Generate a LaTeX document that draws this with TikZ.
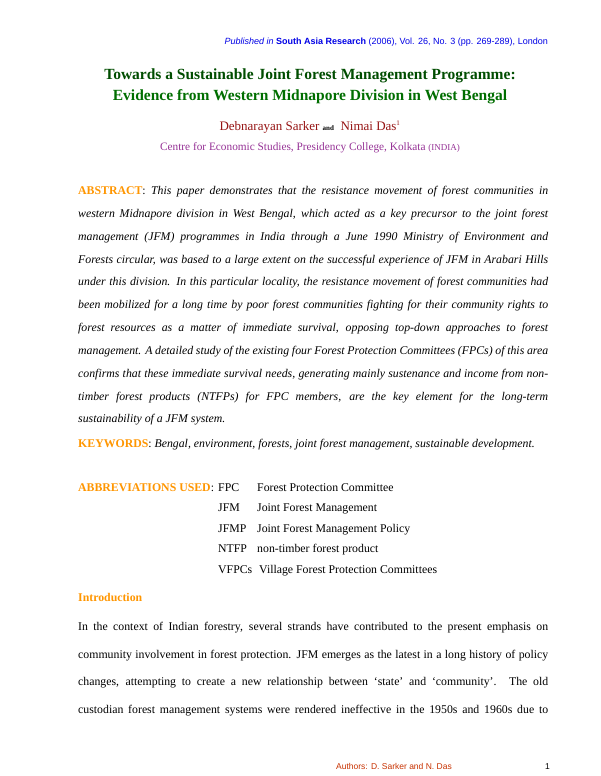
\documentclass[tikz,border=0pt]{standalone}
\usepackage{fontspec}
\setmainfont{Liberation Serif}
\newfontfamily\hsans{Liberation Sans}
\definecolor{hblue}{RGB}{0,0,230}
\definecolor{tgreen}{RGB}{0,110,0}
\definecolor{ared}{RGB}{150,20,20}
\definecolor{apurp}{RGB}{150,50,150}
\definecolor{aor}{RGB}{255,150,0}
\definecolor{fred}{RGB}{200,50,0}
\tikzset{ln/.style={anchor=base west,inner sep=0,font=\fontsize{11.8}{13}\selectfont},
 ab/.style={ln,font=\fontsize{11.8}{13}\selectfont\itshape}}
\newcommand\jl[1]{\hbox to 470pt{#1}}
\begin{document}
\begin{tikzpicture}[x=1pt,y=-1pt]
\useasboundingbox[fill=white] (0,0) rectangle (600,776);
\node[anchor=base east,inner sep=0,font=\hsans\fontsize{9}{10}\selectfont,text=hblue] (hd) at (548,45) {\textit{Published in} \textbf{South Asia Research} (2006), Vol. 26, No. 3 (pp. 269-289), London};
\node[anchor=base,inner sep=0,font=\fontsize{15.5}{16}\bfseries\selectfont,text=tgreen!70!black] (t1) at (310,79) {Towards a Sustainable Joint Forest Management Programme:};
\node[anchor=base,inner sep=0,font=\fontsize{15.5}{16}\bfseries\selectfont,text=tgreen] (t2) at (310,100) {Evidence from Western Midnapore Division in West Bengal};
\node[anchor=base,inner sep=0,font=\fontsize{13}{14}\selectfont,text=ared] (au) at (310,130) {Debnarayan Sarker \textcolor{black}{\scriptsize\bfseries and}\ \ Nimai Das\textsuperscript{\scriptsize 1}};
\node[anchor=base,inner sep=0,font=\fontsize{11.3}{12}\selectfont,text=apurp] (af) at (310,150) {Centre for Economic Studies, Presidency College, Kolkata {\small(INDIA)}};
\node[ab] (a1) at (78,194) {\jl{\textcolor{aor}{\upshape\bfseries ABSTRACT}\upshape: \itshape This paper demonstrates that the resistance movement of forest communities in}};
\node[ab] (a2) at (78,217) {\jl{western Midnapore division in West Bengal, which acted as a key precursor to the joint forest}};
\node[ab] (a3) at (78,240) {\jl{management (JFM) programmes in India through a June 1990 Ministry of Environment and}};
\node[ab] (a4) at (78,263) {\jl{Forests circular, was based to a large extent on the successful experience of JFM in Arabari Hills}};
\node[ab] (a5) at (78,285) {\jl{under this division. In this particular locality, the resistance movement of forest communities had}};
\node[ab] (a6) at (78,308) {\jl{been mobilized for a long time by poor forest communities fighting for their community rights to}};
\node[ab] (a7) at (78,331) {\jl{forest resources as a matter of immediate survival, opposing top-down approaches to forest}};
\node[ab] (a8) at (78,354) {\jl{management. A detailed study of the existing four Forest Protection Committees (FPCs) of this area}};
\node[ab] (a9) at (78,377) {\jl{confirms that these immediate survival needs, generating mainly sustenance and income from non-}};
\node[ab] (a10) at (78,400) {\jl{timber forest products (NTFPs) for FPC members, are the key element for the long-term}};
\node[ab] (a11) at (78,422) {sustainability of a JFM system.};
\node[ab] (kw) at (78,447) {\textcolor{aor}{\upshape\bfseries KEYWORDS}\upshape: \itshape Bengal, environment, forests, joint forest management, sustainable development.};
\node[ln] (abu) at (78,491) {\textcolor{aor}{\bfseries ABBREVIATIONS USED}:};
\node[ln] (k1) at (218,491) {FPC}; \node[ln] (v1) at (257,491) {Forest Protection Committee};
\node[ln] (k2) at (218,511) {JFM}; \node[ln] (v2) at (257,511) {Joint Forest Management};
\node[ln] (k3) at (218,532) {JFMP}; \node[ln] (v3) at (257,532) {Joint Forest Management Policy};
\node[ln] (k4) at (218,552) {NTFP}; \node[ln] (v4) at (257,552) {non-timber forest product};
\node[ln] (k5) at (218,573) {VFPCs}; \node[ln] (v5) at (259,573) {Village Forest Protection Committees};
\node[ln,text=aor,font=\fontsize{11.8}{13}\bfseries\selectfont] (in) at (78,601) {Introduction};
\node[ln] (b1) at (78,630) {\jl{In the context of Indian forestry, several strands have contributed to the present emphasis on}};
\node[ln] (b2) at (78,658) {\jl{community involvement in forest protection. JFM emerges as the latest in a long history of policy}};
\node[ln] (b3) at (78,685) {\jl{changes, attempting to create a new relationship between `state' and `community'. The old}};
\node[ln] (b4) at (78,713) {\jl{custodian forest management systems were rendered ineffective in the 1950s and 1960s due to}};
\node[anchor=base west,inner sep=0,font=\hsans\fontsize{8.5}{10}\selectfont,text=fred] (ft) at (336,769) {Authors: D. Sarker and N. Das};
\node[anchor=base east,inner sep=0,font=\hsans\fontsize{8.5}{10}\selectfont] (pg) at (550,769) {1};
\end{tikzpicture}
\end{document}
